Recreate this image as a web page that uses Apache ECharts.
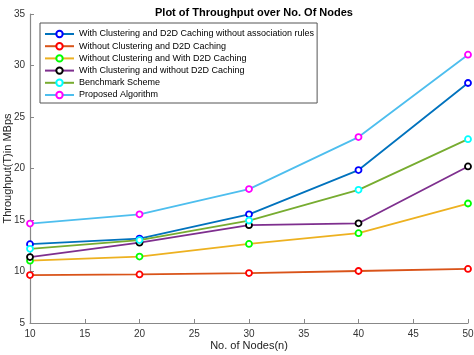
<!DOCTYPE html>
<html><head><meta charset="utf-8">
<script src="https://cdn.jsdelivr.net/npm/echarts@6/dist/echarts.min.js"></script>
<style>html,body{margin:0;padding:0;background:#fff}#c{width:474px;height:355px}</style>
</head><body><div id="c"></div>
<script>
const nodes = [10, 20, 30, 40, 50];
const withClusterNoAssoc = [12.65, 13.2, 15.55, 19.85, 28.3];
const withoutClusterD2D = [9.65, 9.72, 9.85, 10.05, 10.25];
const withoutClusterWithD2D = [11.05, 11.45, 12.68, 13.72, 16.6];
const withClusterNoD2D = [11.4, 12.8, 14.5, 14.68, 20.2];
const benchmark = [12.2, 13.05, 14.95, 17.93, 22.85];
const proposed = [14.65, 15.55, 18.0, 23.05, 31.05];
const seriesNames = [
  'With Clustering and D2D Caching without association rules',
  'Without Clustering and D2D Caching',
  'Without Clustering and With D2D Caching',
  'With Clustering and without D2D Caching',
  'Benchmark Scheme',
  'Proposed Algorithm'
];
const seriesData = [withClusterNoAssoc, withoutClusterD2D, withoutClusterWithD2D, withClusterNoD2D, benchmark, proposed];
const lineColors = ['#0072BD', '#D95319', '#EDB120', '#7E2F8E', '#77AC30', '#4DBEEE'];
const markerColors = ['#0000FF', '#FF0000', '#00FF00', '#000000', '#00FFFF', '#FF00FF'];

const chart = echarts.init(document.getElementById('c'));
chart.setOption({
  animation: false,
  title: {
    text: 'Plot of Throughput over No. Of Nodes',
    left: 249, textAlign: 'center', top: 2,
    textStyle: { fontFamily: 'Liberation Sans', fontSize: 11, fontWeight: 'bold', color: '#000' }
  },
  legend: {
    orient: 'vertical', left: 40, top: 23,
    padding: [6, 3, 3, 4],
    borderColor: '#555', borderWidth: 1, backgroundColor: '#fff',
    itemWidth: 29, itemHeight: 8, itemGap: 2.2,
    textStyle: { fontFamily: 'Liberation Sans', fontSize: 9, lineHeight: 10, color: '#000' }
  },
  grid: { left: 30, right: 6, top: 14, bottom: 32, outerBoundsMode: 'none', containLabel: false },
  xAxis: {
    type: 'value', min: 10, max: 50, interval: 5,
    name: 'No. of Nodes(n)', nameLocation: 'middle', nameGap: 17, nameMoveOverlap: false,
    nameTextStyle: { fontFamily: 'Liberation Sans', fontSize: 11, color: '#222' },
    axisLine: { lineStyle: { color: '#888', width: 1.2 } },
    axisTick: { inside: true, length: 4, lineStyle: { color: '#888' } },
    axisLabel: { fontFamily: 'Liberation Sans', fontSize: 10, color: '#333', margin: 6 },
    splitLine: { show: false }
  },
  yAxis: {
    type: 'value', min: 5, max: 35, interval: 5,
    name: 'Throughput(T)in MBps', nameLocation: 'middle', nameGap: 17, nameMoveOverlap: false,
    nameTextStyle: { fontFamily: 'Liberation Sans', fontSize: 11, color: '#222' },
    axisLine: { show: true, lineStyle: { color: '#888', width: 1.2 } },
    axisTick: { show: true, inside: true, length: 4, lineStyle: { color: '#888' } },
    axisLabel: { fontFamily: 'Liberation Sans', fontSize: 10, color: '#333', margin: 5 },
    splitLine: { show: false }
  },
  series: seriesNames.map((n, i) => ({
    name: n, type: 'line',
    data: nodes.map((x, j) => [x, seriesData[i][j]]),
    symbol: 'circle', symbolSize: 6,
    lineStyle: { color: lineColors[i], width: 1.8 },
    itemStyle: { color: '#fff', borderColor: markerColors[i], borderWidth: 1.8 },
    z: 2 + i
  }))
});
</script></body></html>
